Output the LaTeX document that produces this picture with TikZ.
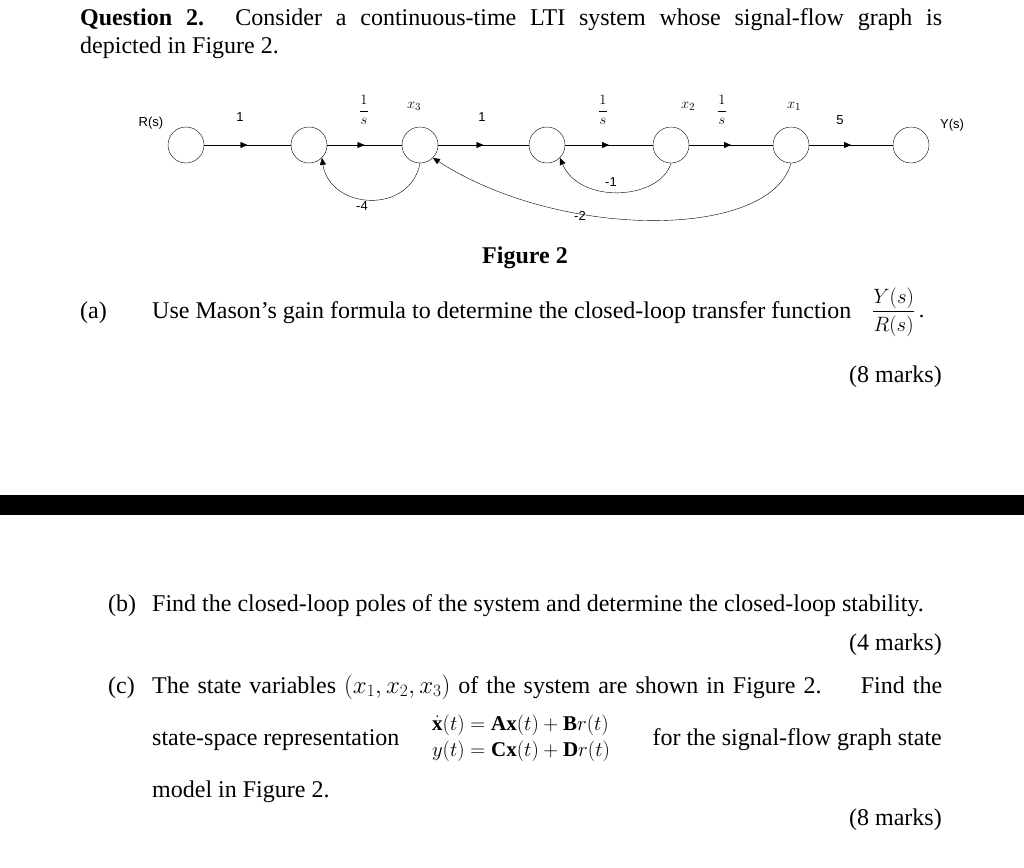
\documentclass[tikz,border=0pt]{standalone}
\usepackage{amsmath}
\usepackage{fontspec}
\setmainfont{Liberation Serif}
\newfontfamily\arial{Liberation Sans}
\usetikzlibrary{arrows.meta,decorations.markings}
\begin{document}
\begin{tikzpicture}[x=1pt,y=-1pt,
  sn/.style={circle,draw,minimum size=36pt,inner sep=0pt},
  gl/.style={font=\arial\fontsize{13}{15}\selectfont,inner sep=0pt},
  gm/.style={font=\fontsize{15}{17}\selectfont,inner sep=0pt},
  tx/.style={font=\fontsize{24}{28}\selectfont,inner sep=0pt,anchor=base west},
  fl/.style={postaction={decorate},decoration={markings,mark=at position 0.5 with {\arrow{Triangle[length=7pt,width=6pt]}}}},
  fb/.style={-{Triangle[length=7pt,width=6pt]}}]
\useasboundingbox (0,0) rectangle (1024,867);
% header
\node[tx,anchor=north west,text width=862pt,align=justify] (q) at (80,8) {\textbf{Question 2.} Consider a continuous-time LTI system whose signal-flow graph is\linebreak depicted in Figure 2.};
% graph
\foreach \n/\x in {r/186,a/309,x3/420,b/547,x2/671,x1/791,y/911}
  \node[sn] (\n) at (\x,145) {};
\draw[fl] (r) -- (a);
\draw[fl] (a) -- (x3);
\draw[fl] (x3) -- (b);
\draw[fl] (b) -- (x2);
\draw[fl] (x2) -- (x1);
\draw[fl] (x1) -- (y);
\draw[fb] (x3.south) .. controls (410,215) and (330,210) .. (a.south east);
\draw[fb] (x2.south) .. controls (660,200) and (580,205) .. (b.south east);
\draw[fb] (x1.south) .. controls (770,240) and (560,240) .. (x3.south east);
\node[gl] (lr) at (151,123) {R(s)};
\node[gl] (ly) at (952,125) {Y(s)};
\node[gl] (l1) at (240,117) {1};
\node[gl] (l2) at (482,117) {1};
\node[gl] (l5) at (840,120) {5};
\node[gl] (lm4) at (362,206) {-4};
\node[gl] (lm1) at (611,182) {-1};
\node[gl] (lm2) at (580,216) {-2};
\node[gm] (s1) at (364,110) {$\dfrac{1}{s}$};
\node[gm] (s2) at (603,110) {$\dfrac{1}{s}$};
\node[gm] (s3) at (722,110) {$\dfrac{1}{s}$};
\node[gm] (n3) at (414,106) {$x_3$};
\node[gm] (n2) at (688,106) {$x_2$};
\node[gm] (n1) at (794,106) {$x_1$};
\node[tx,anchor=base] (fig) at (525,263) {\textbf{Figure 2}};
% (a)
\node[tx] (pa) at (80,318) {(a)};
\node[tx] (ta) at (152,318) {Use Mason’s gain formula to determine the closed-loop transfer function};
\node[inner sep=0pt,font=\fontsize{22}{26}\selectfont,anchor=west] (fr) at (872,312) {$\dfrac{Y(s)}{R(s)}$\,.};
\node[tx,anchor=base east] (m1) at (942,382) {(8 marks)};
% bar
\fill (0,495) rectangle (1024,515);
% (b)
\node[tx] (pb) at (108,611) {(b)};
\node[tx] (tb) at (152,611) {Find the closed-loop poles of the system and determine the closed-loop stability.};
\node[tx,anchor=base east] (m2) at (942,650) {(4 marks)};
% (c)
\node[tx] (pc) at (108,693) {(c)};
\node[tx,text width=790pt] (tc) at (152,693) {The state variables $(x_1,x_2,x_3)$ of the system are shown in Figure 2.\hfill Find the};
\node[tx] (tc2) at (152,745) {state-space representation};
\node[inner sep=0pt,font=\fontsize{21}{25}\selectfont] (eq) at (521,738) {$\begin{aligned}\dot{\mathbf{x}}(t)&=\mathbf{A}\mathbf{x}(t)+\mathbf{B}r(t)\\[-2pt] y(t)&=\mathbf{C}\mathbf{x}(t)+\mathbf{D}r(t)\end{aligned}$};
\node[tx,anchor=base east] (tc3) at (942,745) {for the signal-flow graph state};
\node[tx] (tc4) at (152,797) {model in Figure 2.};
\node[tx,anchor=base east] (m3) at (942,825) {(8 marks)};
\end{tikzpicture}
\end{document}
